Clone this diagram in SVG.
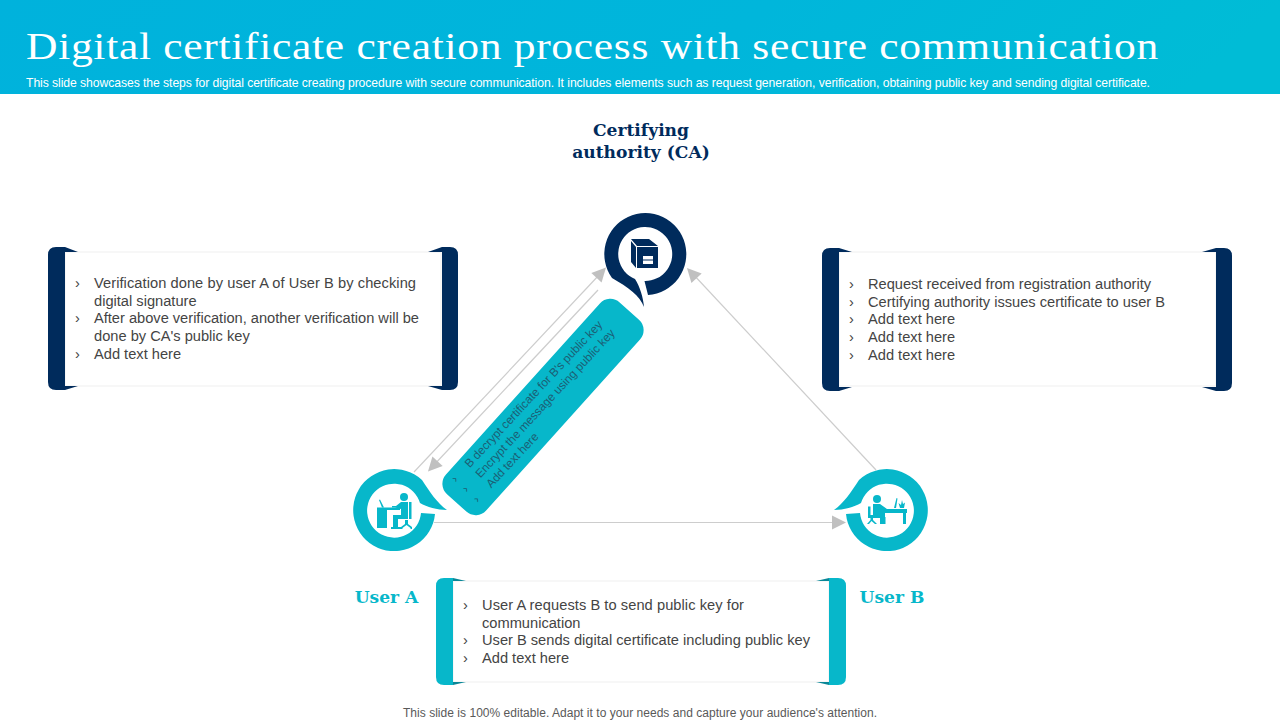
<svg xmlns="http://www.w3.org/2000/svg" width="1280" height="720" viewBox="0 0 1280 720">
<style>
.b{font-family:"Liberation Sans",Arial,sans-serif;font-size:14.65px;fill:#444}
.h{font-family:"DejaVu Serif",serif;font-weight:700;font-size:17.1px}
.c{stroke:#cdcdcd;stroke-width:1.2;fill:none}
.p{fill:#fff;stroke:#f2f2f2;stroke-width:1.2}
.navy{fill:#002b5c}.teal{fill:#07b7ca}.dark{fill:#0a8797}
</style>
<defs>
<linearGradient id="g" x1="0" y1="0" x2="1" y2="0.08"><stop offset="0" stop-color="#00b2dc"/><stop offset="0.6" stop-color="#00b6db"/><stop offset="1" stop-color="#00bcd6"/></linearGradient>
<path id="ah" d="M0 0L-14 -7L-14 7Z" fill="#c0c0c0"/>
</defs>
<rect id="header" width="1280" height="94" fill="url(#g)"/>
<text x="26" y="59" font-family="Liberation Serif,serif" font-size="38" fill="#fff" letter-spacing="0.6" textLength="1133" lengthAdjust="spacingAndGlyphs">Digital certificate creation process with secure communication</text>
<text x="26" y="87" font-family="Liberation Sans,sans-serif" font-size="12.2" fill="#fff" textLength="1124">This slide showcases the steps for digital certificate creating procedure with secure communication. It includes elements such as request generation, verification, obtaining public key and sending digital certificate.</text>

<g id="connectors">
<path class="c" d="M414 472L600 274"/>
<use href="#ah" transform="translate(606 267.500) rotate(-47)"/>
<path class="c" d="M598 290L433 466"/>
<use href="#ah" transform="translate(428 471.500) rotate(133)"/>
<path class="c" d="M876 470L692 273"/>
<use href="#ah" transform="translate(687 268) rotate(-133)"/>
<path class="c" d="M434 522.500H836"/>
<use href="#ah" transform="translate(846 522.500)"/>
</g>

<g id="ca-label"><text class="h" fill="#002b5c" x="641" y="136" text-anchor="middle">Certifying</text><text class="h" fill="#002b5c" x="641" y="158" text-anchor="middle">authority (CA)</text></g>

<g id="node-ca">
<path class="navy" d="M644 307C640 296 628 287 612 278A41 41 0 1 1 648 295L644.500 281A27 27 0 1 0 635 279C640 287 643 297 644 307Z"/>
<path class="navy" d="M631 239H649L658 246H637ZM637 247H658V268H637ZM631 241L636 247V268L631 262Z"/>
<rect x="643" y="256" width="10" height="8" fill="#fff"/><path d="M643 260H653" stroke="#002b5c" stroke-width="1"/>
</g>

<g id="node-user-a">
<path class="teal" d="M447 510C437 503 430 492 422 480A41 41 0 1 0 435 514L421 513A27 27 0 1 1 420 503C427 507 437 510 447 510Z"/>
<g class="teal">
<rect x="377" y="510" width="10" height="18"/><rect x="377" y="507.500" width="23" height="2.500"/>
<path d="M379 500L380 499.500L384 507.500H382Z"/>
<circle cx="404" cy="497" r="4"/>
<path d="M401 502H408V519H398V527H401V529H391V527H393V515H401V509L395 507.500H392V506H396Z"/>
<rect x="409" y="502" width="2.500" height="17"/>
<path d="M405 520H408V524L412 527V529H410.500V528L406.500 525L402.500 528V529H401V527L405 524Z"/>
</g>
</g>

<g id="node-user-b">
<path class="teal" d="M834 510C844 503 851 492 859 480A41 41 0 1 1 846 514L860 513A27 27 0 1 0 861 503C854 507 844 510 834 510Z"/>
<g class="teal">
<circle cx="877" cy="499" r="4"/>
<path d="M873 504H880L887 509H895V512.500H885V517H885.500V524H880V518H873Z"/>
<path d="M868 506.500H870.500V515H873V518H873V520L877 524H875L871.500 521L869 524H867L870.500 520V518H868Z"/>
<path d="M883 509H907V513H906V524H903V513H883Z"/>
<path d="M894 508L896.500 498L897.500 498.500L896 508Z"/>
<path d="M900 508L898.500 503L901 505L902 500L903 504L905 502.500L904 508Z"/>
</g>
</g>

<g id="bubble">
<rect class="teal" x="414" y="380" width="258" height="54" rx="14" transform="rotate(-48 543 407)"/>
<g class="b" transform="translate(456 483) rotate(-47)" style="font-size:11.8px;fill:#1c5f75">
<text x="0" y="0">›</text><text x="20" y="0">B decrypt certificate for B's public key</text>
<text x="0" y="14.800">›</text><text x="20" y="14.800">Encrypt the message using public key</text>
<text x="0" y="29.600">›</text><text x="20" y="29.600">Add text here</text>
</g>
</g>

<g id="panel-left">
<rect class="p" x="65" y="252" width="376" height="134"/>
<path class="navy" d="M78 252L65 247H56Q48 247 48 255V382Q48 390 56 390H65L78 386H65V252Z"/>
<path class="navy" d="M428 252L442 247H450Q458 247 458 255V382Q458 390 450 390H442L428 386H442V252Z"/>
<g class="b">
<text x="75" y="288">›</text><text x="94" y="288" textLength="322">Verification done by user A of User B by checking</text>
<text x="94" y="306">digital signature</text>
<text x="75" y="323">›</text><text x="94" y="323" textLength="325">After above verification, another verification will be</text>
<text x="94" y="341">done by CA's public key</text>
<text x="75" y="359">›</text><text x="94" y="359">Add text here</text>
</g>
</g>

<g id="panel-right">
<rect class="p" x="839" y="252" width="377" height="134"/>
<path class="navy" d="M852 252L839 248H830Q822 248 822 256V383Q822 391 830 391H839L852 387H839V252Z"/>
<path class="navy" d="M1202 252L1216 248H1224Q1232 248 1232 256V383Q1232 391 1224 391H1216L1202 387H1216V252Z"/>
<g class="b">
<text x="849" y="289">›</text><text x="868" y="289" textLength="283">Request received from registration authority</text>
<text x="849" y="307">›</text><text x="868" y="307" textLength="297">Certifying authority issues certificate to user B</text>
<text x="849" y="324">›</text><text x="868" y="324">Add text here</text>
<text x="849" y="342">›</text><text x="868" y="342">Add text here</text>
<text x="849" y="360">›</text><text x="868" y="360">Add text here</text>
</g>
</g>

<g id="panel-bottom">
<rect class="p" x="453" y="581" width="376" height="101"/>
<path class="teal" d="M453 581V578H444Q436 578 436 586V677Q436 685 444 685H453V682Z"/>
<path class="dark" d="M453 578L466 581H453ZM453 685L466 682H453Z"/>
<path class="teal" d="M829 581V578H838Q846 578 846 586V677Q846 685 838 685H829V682Z"/>
<path class="dark" d="M829 578L816 581H829ZM829 685L816 682H829Z"/>
<g class="b">
<text x="463" y="610">›</text><text x="482" y="610" textLength="262">User A requests B to send public key for</text>
<text x="482" y="628">communication</text>
<text x="463" y="645">›</text><text x="482" y="645" textLength="328">User B sends digital certificate including public key</text>
<text x="463" y="663">›</text><text x="482" y="663">Add text here</text>
</g>
</g>

<g id="label-user-a"><text class="h" fill="#07b7ca" x="386.500" y="603" text-anchor="middle">User A</text></g>
<g id="label-user-b"><text class="h" fill="#07b7ca" x="892" y="603" text-anchor="middle">User B</text></g>
<text x="403" y="717" font-family="Liberation Sans,sans-serif" font-size="12" fill="#595959" textLength="474">This slide is 100% editable. Adapt it to your needs and capture your audience's attention.</text>
</svg>
